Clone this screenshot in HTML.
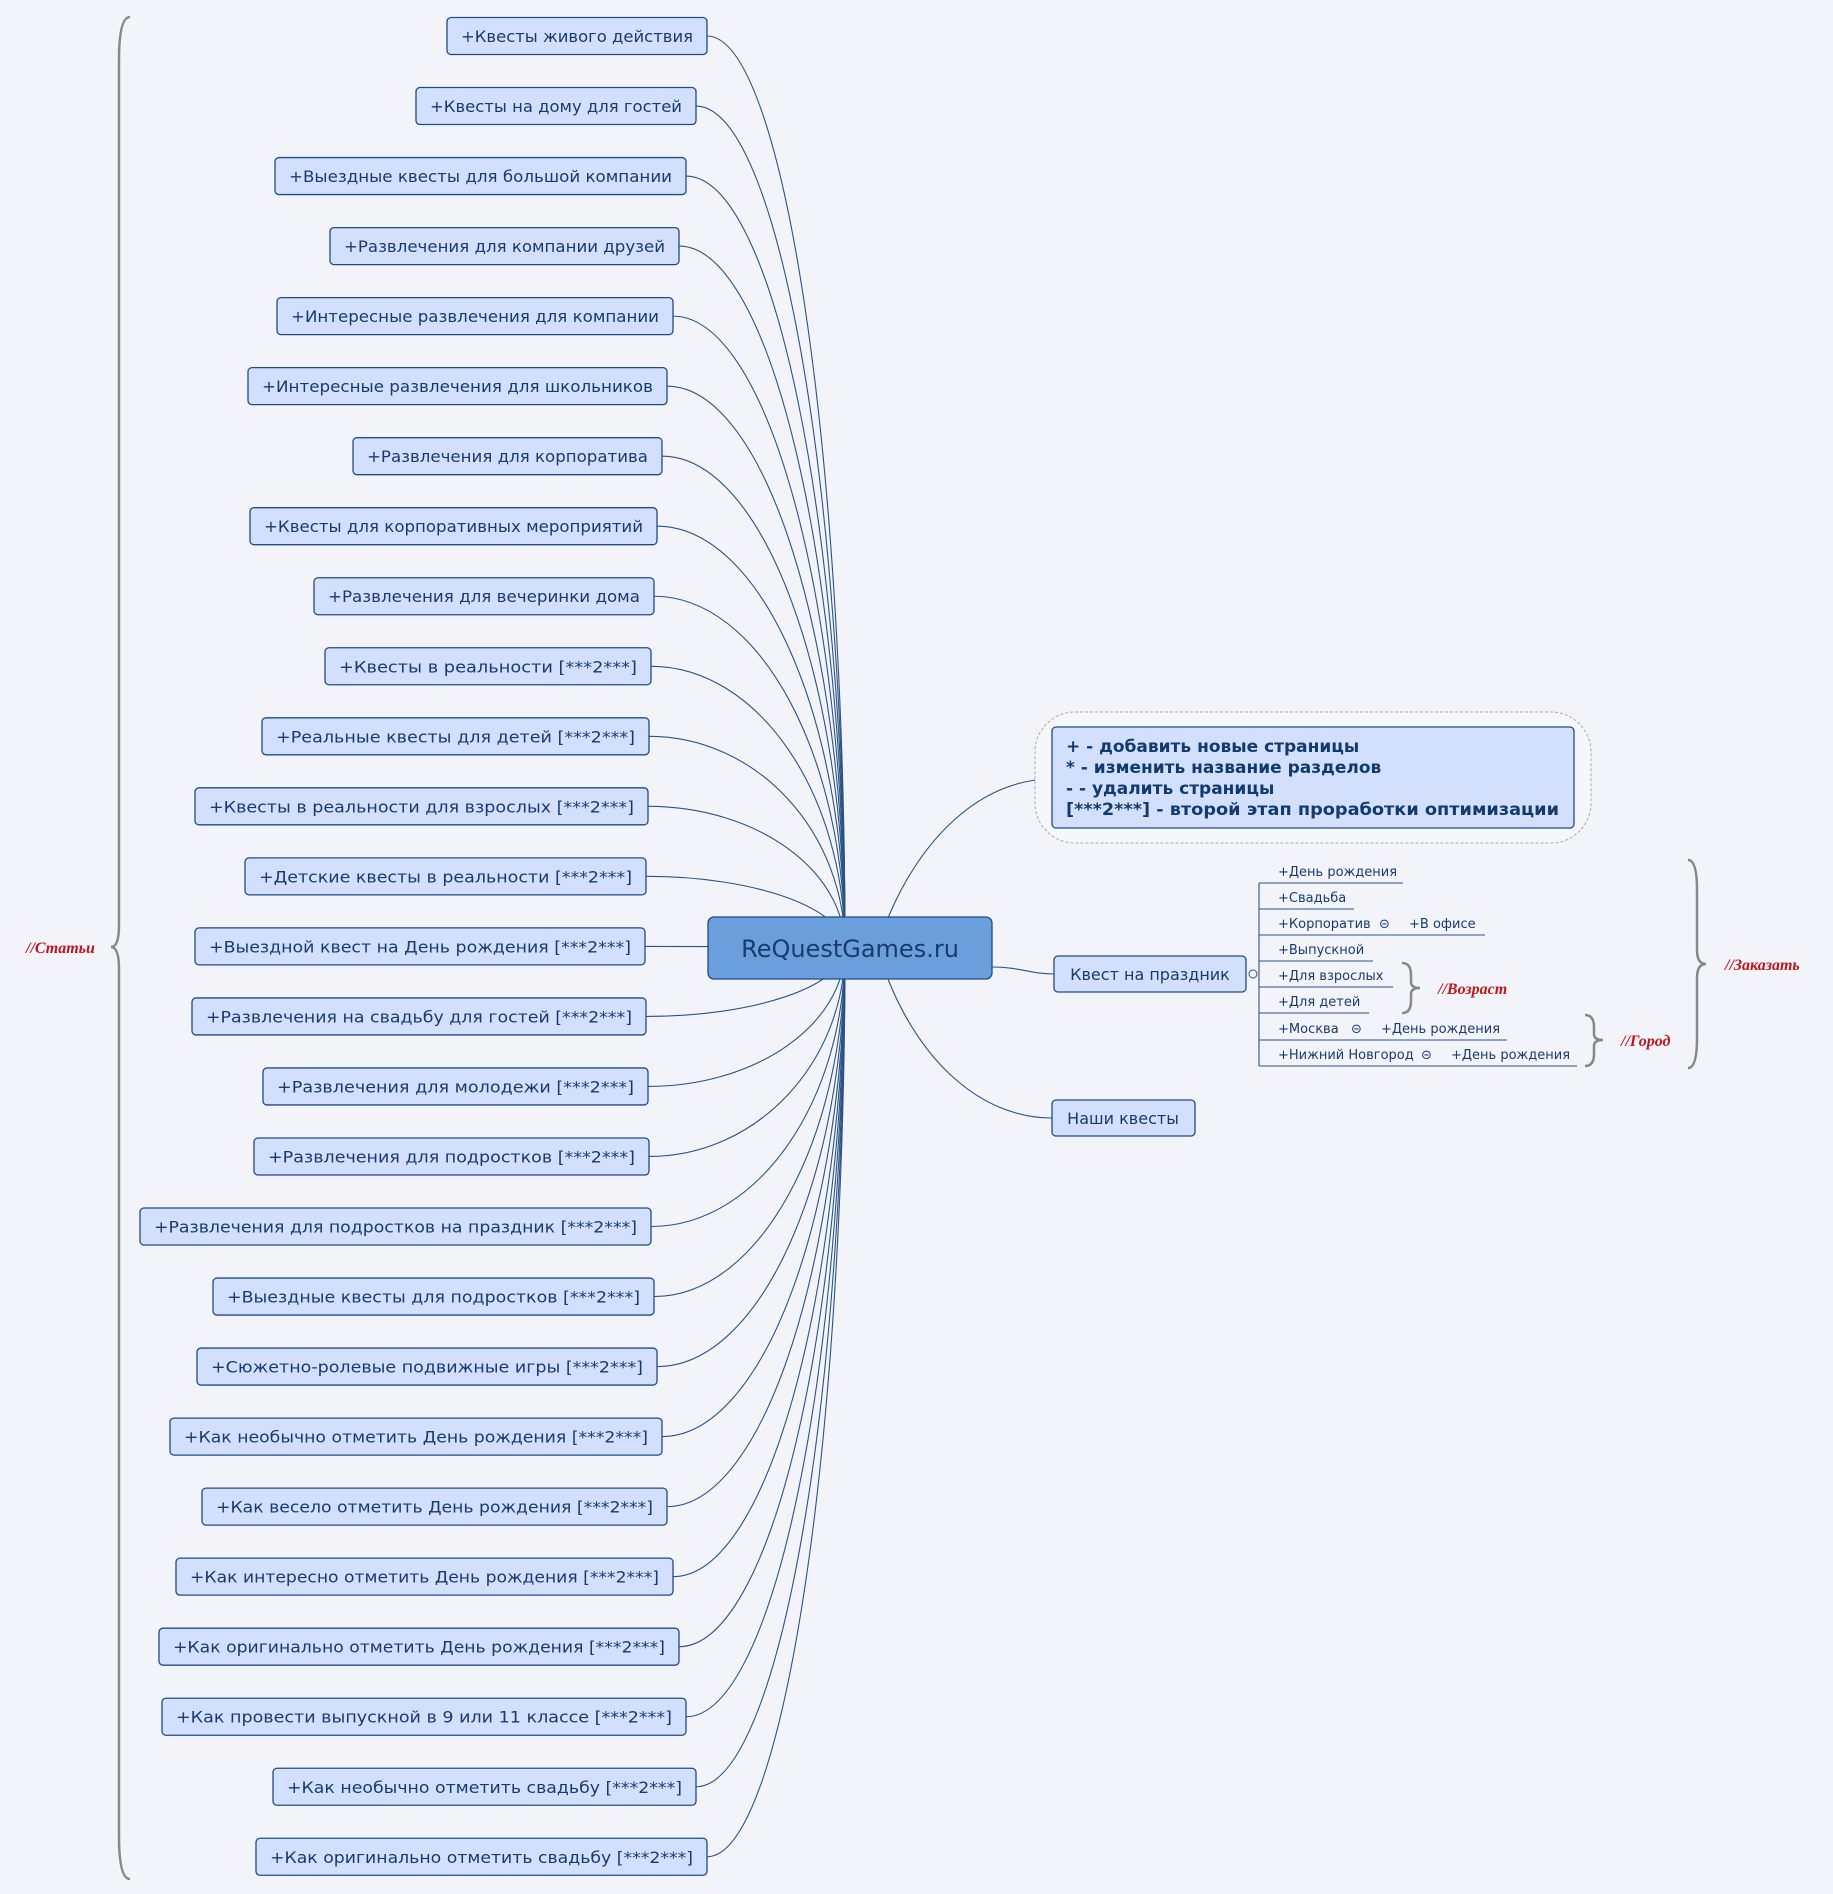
<!DOCTYPE html>
<html><head><meta charset="utf-8"><style>
html,body{margin:0;padding:0;background:#f2f4f9;}
svg{display:block;}
.n{fill:#d2e0fd;stroke:#1f4b87;stroke-width:1.3;}
.t{font-family:"DejaVu Sans","Liberation Sans",sans-serif;font-size:16px;fill:#1a3a6e;}
.s{font-family:"DejaVu Sans","Liberation Sans",sans-serif;font-size:13px;fill:#1a3a6e;}
.c{fill:none;stroke:#2b5385;stroke-width:1.1;}
.r{font-family:"Liberation Serif",serif;font-style:italic;font-weight:bold;fill:#c0141c;font-size:16px;}
.br{fill:none;stroke:#888;stroke-width:2.5;}
</style></head><body>
<svg width="1833" height="1894" xmlns="http://www.w3.org/2000/svg">
<g id="lines"></g>
<g id="nodes"></g>
<rect x="708" y="917" width="284" height="62" rx="6" fill="#6a9fdc" stroke="#1f4b87" stroke-width="1.3"/>
<text x="850" y="957" text-anchor="middle" style="font-family:'DejaVu Sans','Liberation Sans',sans-serif;font-size:24px;fill:#1a3a6e">ReQuestGames.ru</text>

<path class="c" d="M888,918 C920,840 980,779 1052,779"/>
<path class="c" d="M992,967 C1020,967 1030,974 1054,974"/>
<path class="c" d="M888,979 C920,1060 980,1118 1052,1118"/>

<rect x="1035" y="712" width="556" height="131" rx="40" fill="#f6f7fa" stroke="#aaa" stroke-dasharray="3,2"/>
<rect x="1052" y="727" width="522" height="101" rx="4" class="n"/>
<g style="font-family:'DejaVu Sans','Liberation Sans',sans-serif;font-size:17px;font-weight:bold;fill:#123a6e">
<text x="1066" y="752">+ - добавить новые страницы</text>
<text x="1066" y="773">* - изменить название разделов</text>
<text x="1066" y="794">- - удалить страницы</text>
<text x="1066" y="815" textLength="493" lengthAdjust="spacingAndGlyphs">[***2***] - второй этап проработки оптимизации</text>
</g>

<rect x="1054" y="956" width="192" height="36" rx="4" class="n"/>
<text x="1150" y="980" text-anchor="middle" class="t">Квест на праздник</text>
<rect x="1052" y="1100" width="143" height="36" rx="4" class="n"/>
<text x="1123" y="1124" text-anchor="middle" class="t">Наши квесты</text>
<circle cx="1253" cy="974" r="4" fill="none" stroke="#2b5385"/>

<path class="c" d="M1259,883 V1066"/>
<g class="c">
<path d="M1259,883 H1403"/><path d="M1259,909 H1354"/><path d="M1259,935 H1485"/><path d="M1259,961 H1373"/>
<path d="M1259,987 H1393"/><path d="M1259,1013 H1369"/><path d="M1259,1040 H1507"/><path d="M1259,1066 H1577"/>
</g>
<g class="s">
<text x="1278" y="876">+День рождения</text>
<text x="1278" y="902">+Свадьба</text>
<text x="1278" y="928">+Корпоратив</text><text x="1379" y="928">⊝</text><text x="1409" y="928">+В офисе</text>
<text x="1278" y="954">+Выпускной</text>
<text x="1278" y="980">+Для взрослых</text>
<text x="1278" y="1006">+Для детей</text>
<text x="1278" y="1033">+Москва</text><text x="1351" y="1033">⊝</text><text x="1381" y="1033">+День рождения</text>
<text x="1278" y="1059">+Нижний Новгород</text><text x="1421" y="1059">⊝</text><text x="1451" y="1059">+День рождения</text>
</g>

<path class="br" d="M130,17 Q119,17 119,60 L119,925 Q119,947 111,947 Q119,947 119,969 L119,1836 Q119,1879 130,1879"/>
<text x="26" y="953" class="r" font-size="15">//Статьи</text>
<path class="br" stroke-width="2" d="M1402,963 Q1411,963 1411,975 L1411,982 Q1411,988 1420,988 Q1411,988 1411,994 L1411,1001 Q1411,1013 1402,1013"/>
<text x="1438" y="994" class="r" font-size="15">//Возраст</text>
<path class="br" stroke-width="2" d="M1585,1015 Q1594,1015 1594,1027 L1594,1034 Q1594,1040 1603,1040 Q1594,1040 1594,1046 L1594,1054 Q1594,1066 1585,1066"/>
<text x="1621" y="1046" class="r" font-size="15">//Город</text>
<path class="br" d="M1688,860 Q1697,860 1697,890 L1697,950 Q1697,964 1706,964 Q1697,964 1697,978 L1697,1038 Q1697,1068 1688,1068"/>
<text x="1725" y="970" class="r" font-size="15">//Заказать</text>

<script>
var d=[[447,707,"+Квесты живого действия"],[416,696,"+Квесты на дому для гостей"],[275,686,"+Выездные квесты для большой компании"],[330,679,"+Развлечения для компании друзей"],[277,673,"+Интересные развлечения для компании"],[248,667,"+Интересные развлечения для школьников"],[353,662,"+Развлечения для корпоратива"],[250,657,"+Квесты для корпоративных мероприятий"],[314,654,"+Развлечения для вечеринки дома"],[325,651,"+Квесты в реальности [***2***]"],[262,649,"+Реальные квесты для детей [***2***]"],[195,648,"+Квесты в реальности для взрослых [***2***]"],[245,646,"+Детские квесты в реальности [***2***]"],[195,645,"+Выездной квест на День рождения [***2***]"],[192,646,"+Развлечения на свадьбу для гостей [***2***]"],[263,648,"+Развлечения для молодежи [***2***]"],[254,649,"+Развлечения для подростков [***2***]"],[140,651,"+Развлечения для подростков на праздник [***2***]"],[213,654,"+Выездные квесты для подростков [***2***]"],[197,657,"+Сюжетно-ролевые подвижные игры [***2***]"],[170,662,"+Как необычно отметить День рождения [***2***]"],[202,667,"+Как весело отметить День рождения [***2***]"],[176,673,"+Как интересно отметить День рождения [***2***]"],[159,679,"+Как оригинально отметить День рождения [***2***]"],[162,686,"+Как провести выпускной в 9 или 11 классе [***2***]"],[273,696,"+Как необычно отметить свадьбу [***2***]"],[256,707,"+Как оригинально отметить свадьбу [***2***]"]];
var NS="http://www.w3.org/2000/svg",L=document.getElementById("lines"),N=document.getElementById("nodes");
d.forEach(function(e,k){var cy=36+70.03*k,x=e[0],R=e[1],w=R-x;
var p=document.createElementNS(NS,"path");p.setAttribute("class","c");
var ex=845,ey=948;
p.setAttribute("d","M"+R+","+cy+" C"+(R+(ex-R)*0.55)+","+cy+" "+ex+","+(ey+(cy-ey)*0.55)+" "+ex+","+ey);L.appendChild(p);
var r=document.createElementNS(NS,"rect");r.setAttribute("x",x);r.setAttribute("y",cy-18.5);r.setAttribute("width",w);r.setAttribute("height",37);r.setAttribute("rx",4);r.setAttribute("class","n");N.appendChild(r);
var t=document.createElementNS(NS,"text");t.setAttribute("x",x+w/2);t.setAttribute("y",cy+6);t.setAttribute("text-anchor","middle");t.setAttribute("class","t");t.setAttribute("textLength",w-28);t.setAttribute("lengthAdjust","spacingAndGlyphs");t.textContent=e[2];N.appendChild(t);});
</script>
</svg>
</body></html>
